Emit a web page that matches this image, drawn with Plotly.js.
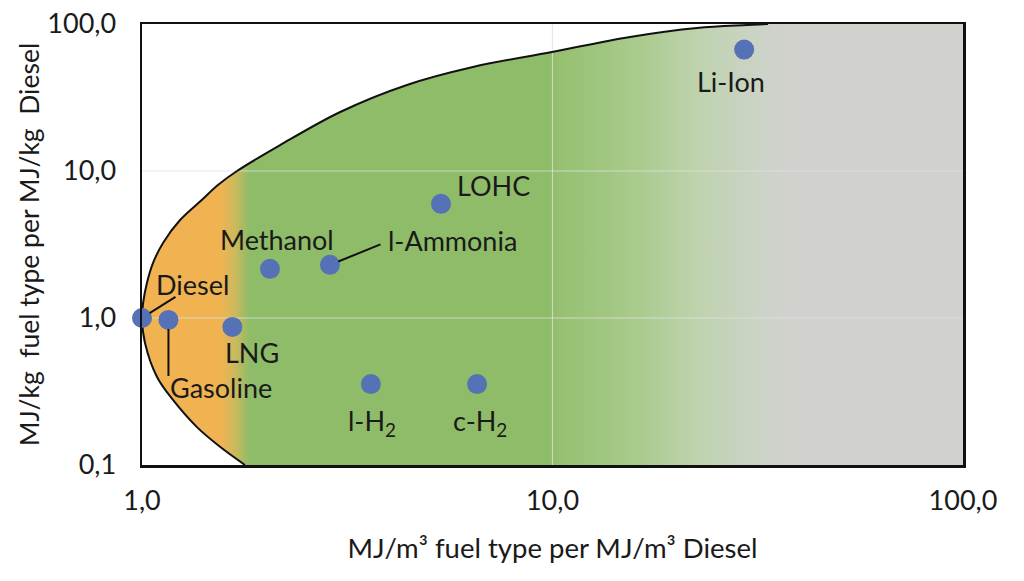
<!DOCTYPE html>
<html>
<head>
<meta charset="utf-8">
<script src="https://cdn.plot.ly/plotly-3.0.1.min.js"></script>
<style>html,body{margin:0;padding:0;background:#fff;}#chart{width:1024px;height:581px;}</style>
</head>
<body>
<div id="chart"></div>
<script>
// ---- data ----
const fuels = ['Diesel', 'Gasoline', 'LNG', 'Methanol', 'l-Ammonia', 'LOHC', 'l-H<sub>2</sub>', 'c-H<sub>2</sub>', 'Li-Ion'];
const volumetricRatio = [1.0, 1.16, 1.66, 2.05, 2.87, 5.35, 3.61, 6.55, 29.3];
const gravimetricRatio = [1.0, 0.97, 0.87, 2.16, 2.30, 5.98, 0.355, 0.355, 67.0];

// boundary of the feasible region (from bottom edge, through (1,1), up to the top edge)
const boundaryX = [1.782, 1.549, 1.361, 1.190, 1.088, 1.017, 1.0, 1.006, 1.028, 1.064, 1.125, 1.238, 1.398, 1.531, 1.704, 2.17, 3.04, 4.42, 6.40, 9.97, 15.45, 22.5, 29.8, 33.5];
const boundaryY = [0.1, 0.133, 0.181, 0.277, 0.397, 0.676, 1.0, 1.26, 1.73, 2.37, 3.24, 4.64, 6.35, 8.03, 10.0, 15.0, 25.2, 38.5, 51.0, 64.5, 81.6, 93.9, 98.4, 100];

const xTickVals = [1, 10, 100];
const xTickText = ['1,0', '10,0', '100,0'];
const yTickVals = [0.1, 1, 10, 100];
const yTickText = ['0,1', '1,0', '10,0', '100,0'];
const xRange = [1, 100];
const yRange = [0.1, 100];

// ---- styling / placement ----
const FONT = 'Lato, "Open Sans", sans-serif';
const labelShift = {
  'Diesel': [50, 34], 'Gasoline': [53, -68], 'LNG': [20, -26], 'Methanol': [7, 29],
  'l-Ammonia': [123, 24], 'LOHC': [53, 18], 'l-H<sub>2</sub>': [1, -38], 'c-H<sub>2</sub>': [3, -38], 'Li-Ion': [-13, -32]
};
// leader lines: pixel offset of the line end from the marker (screen coords, y down)
const leaders = { 'Diesel': [35, -22], 'Gasoline': [0, 58], 'l-Ammonia': [52, -21] };

// closed fill region: boundary + right-hand corners of the plot
const fillX = boundaryX.concat([xRange[1], xRange[1]]);
const fillY = boundaryY.concat([yRange[1], yRange[0]]);

const traces = [];
traces.push({
  type: 'scatter', mode: 'none', x: fillX, y: fillY, fill: 'toself',
  fillgradient: {
    type: 'horizontal',
    colorscale: [
      [0.0, '#F1B352'], [0.095, '#F1B352'], [0.113, '#CDB95C'], [0.131, '#8EBC68'],
      [0.5, '#8EBC68'], [0.505, '#95C06F'], [0.607, '#AACB8E'], [0.68, '#BFD3AF'],
      [0.753, '#CCD3C7'], [0.79, '#D1D2CE'], [1.0, '#D1D2CE']
    ]
  },
  hoverinfo: 'skip', showlegend: false
});
// grid lines drawn over the fill
xTickVals.slice(1, -1).forEach(v => traces.push({
  type: 'scatter', mode: 'lines', x: [v, v], y: yRange,
  line: { color: 'rgba(225,225,225,0.75)', width: 1.2 }, hoverinfo: 'skip', showlegend: false
}));
yTickVals.slice(1, -1).forEach(v => traces.push({
  type: 'scatter', mode: 'lines', x: xRange, y: [v, v],
  line: { color: 'rgba(225,225,225,0.75)', width: 1.2 }, hoverinfo: 'skip', showlegend: false
}));
traces.push({
  type: 'scatter', mode: 'lines', x: boundaryX, y: boundaryY,
  line: { color: '#111', width: 2, shape: 'spline', smoothing: 1 }, hoverinfo: 'skip', showlegend: false
});
traces.push({
  type: 'scatter', mode: 'markers', x: volumetricRatio, y: gravimetricRatio, text: fuels,
  marker: { color: '#5572B6', size: 20 }, cliponaxis: false, showlegend: false
});

const annotations = [];
fuels.forEach((f, i) => {
  const lx = Math.log10(volumetricRatio[i]), ly = Math.log10(gravimetricRatio[i]);
  const s = labelShift[f];
  if (leaders[f]) {
    annotations.push({
      x: lx, y: ly, xref: 'x', yref: 'y', text: ' ', showarrow: true,
      arrowhead: 0, arrowwidth: 2, arrowcolor: '#111', standoff: 9,
      ax: leaders[f][0], ay: leaders[f][1], font: { size: 1 }
    });
  }
  annotations.push({
    x: lx, y: ly, xref: 'x', yref: 'y', text: f, showarrow: false,
    xshift: s[0], yshift: s[1], xanchor: 'center', yanchor: 'middle',
    font: { family: FONT, size: 27, color: '#1a1a1a' }
  });
});

const axisCommon = {
  type: 'log', showgrid: false, zeroline: false, showline: true, mirror: true,
  linecolor: '#111', linewidth: 2.5, ticks: '', layer: 'above traces',
  tickfont: { family: FONT, size: 27, color: '#1a1a1a' }
};

const layout = {
  width: 1024, height: 581,
  margin: { l: 142, r: 61, t: 24, b: 116 },
  paper_bgcolor: '#fff', plot_bgcolor: '#fff',
  font: { family: FONT },
  xaxis: Object.assign({}, axisCommon, {
    range: xRange.map(Math.log10), tickvals: xTickVals, ticktext: xTickText, ticklabelstandoff: 10,
    title: { text: 'MJ/m³ fuel type per MJ/m³ Diesel', font: { family: FONT, size: 27.5, color: '#1a1a1a' }, standoff: 24 }
  }),
  yaxis: Object.assign({}, axisCommon, {
    range: yRange.map(Math.log10), tickvals: yTickVals, ticktext: yTickText, ticklabelstandoff: 18,
    title: { text: 'MJ/kg  fuel type per MJ/kg  Diesel', font: { family: FONT, size: 26.5, color: '#1a1a1a' }, standoff: 0 }
  }),
  annotations: annotations,
  showlegend: false
};

Plotly.newPlot('chart', traces, layout, { staticPlot: true, displayModeBar: false });
</script>
</body>
</html>
